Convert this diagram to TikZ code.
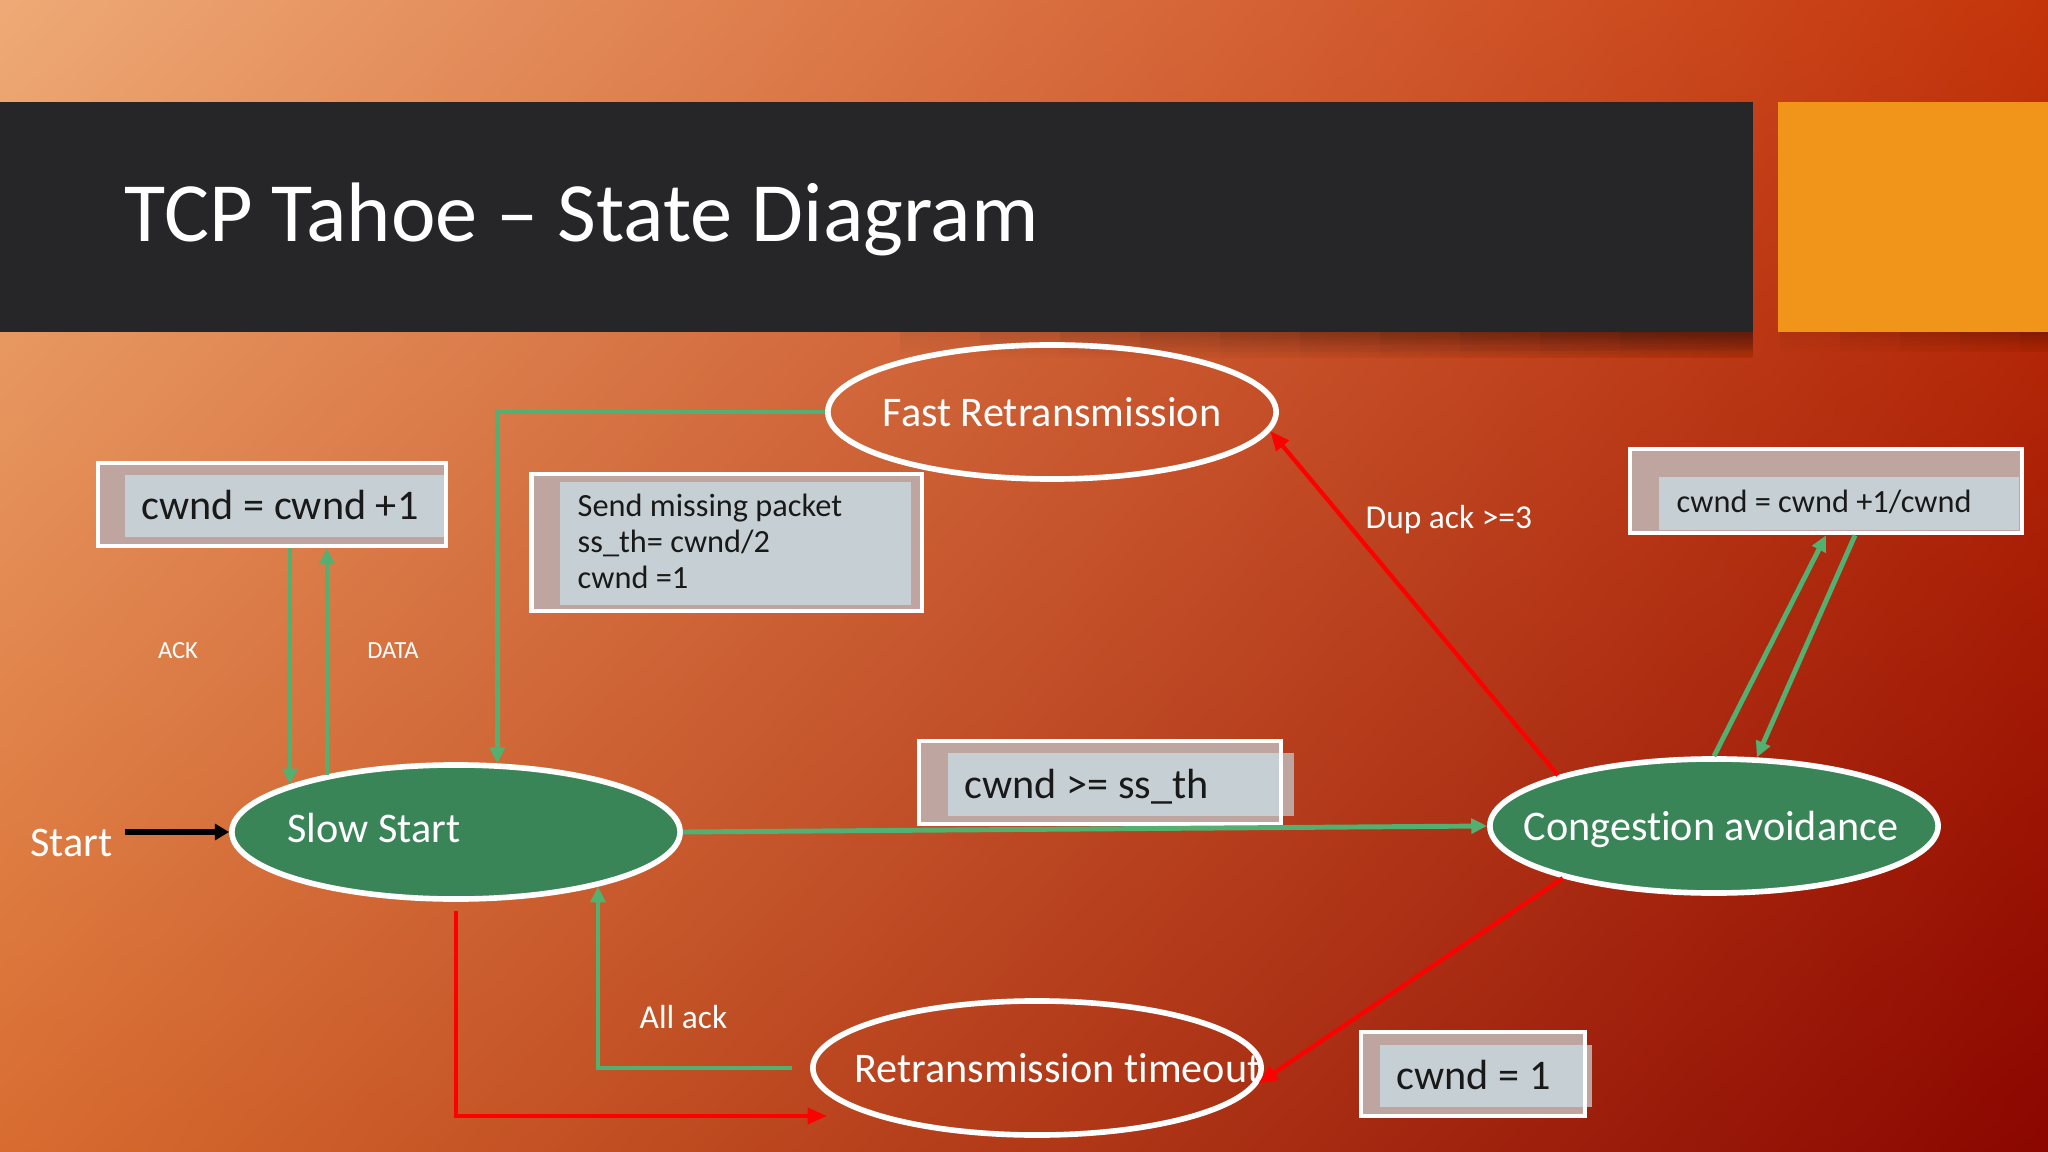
\documentclass[tikz,border=0pt]{standalone}
\usepackage{fontspec}
\setmainfont{Carlito}[Ligatures=NoCommon]
\usetikzlibrary{arrows.meta, shapes.geometric, fadings, shadings}
\definecolor{bgTL}{RGB}{238,170,118}
\definecolor{bgTR}{RGB}{196,52,10}
\definecolor{bgBL}{RGB}{216,108,48}
\definecolor{bgBR}{RGB}{138,6,0}
\definecolor{titlebar}{RGB}{38,38,41}
\definecolor{accent}{RGB}{240,149,26}
\definecolor{stategreen}{RGB}{58,133,88}
\definecolor{flowgreen}{RGB}{82,176,112}
\definecolor{notepink}{RGB}{190,165,160}
\definecolor{noteblue}{RGB}{198,208,212}
\tikzfading[name=shadowfade, top color=transparent!0, bottom color=transparent!100]

\tikzset{
  state/.style={ellipse, draw=white, line width=1.6pt, minimum width=4.48cm, minimum height=1.34cm, inner sep=0pt},
  statelabel/.style={text=white, font=\fontsize{12}{14}\selectfont, text height=8pt, text depth=0pt},
  noteframe/.style={draw=white, line width=1.3pt, inner sep=0pt},
  notetext/.style={text=black!90, font=\fontsize{12}{14}\selectfont, inner sep=0pt, anchor=base west},
  notesmall/.style={notetext, font=\fontsize{9.2}{11}\selectfont},
  flowlabel/.style={text=white, font=\fontsize{9.5}{11}\selectfont, inner sep=0pt},
  okflow/.style={draw=flowgreen, line width=1.4pt, -{Triangle[length=4.5pt, width=4.2pt]}},
  lossflow/.style={draw=red, line width=1.2pt, -{Triangle[length=5.5pt, width=4.5pt]}},
}

\begin{document}
\begin{tikzpicture}[x=0.01cm, y=-0.01cm]
  \useasboundingbox (0,0) rectangle (2048,1152);
  \shade[upper left=bgTL, upper right=bgTR, lower left=bgBL, lower right=bgBR] (0,0) rectangle (2048,1152);

  % title bar
  \foreach \x in {900,980,...,1620}
    \fill[black, opacity=0.06, path fading=shadowfade] (\x,332) rectangle (1753,358);
  \foreach \x in {1780,1840,...,2020}
    \fill[black, opacity=0.06, path fading=shadowfade] (\x,332) rectangle (2048,352);
  \fill[titlebar] (0,102) rectangle (1753,332);
  \fill[accent] (1778,102) rectangle (2048,332);
  \node[text=white, font=\fontsize{24}{28}\selectfont, inner sep=0pt, anchor=base west] (title) at (124,242) {TCP Tahoe – State Diagram};

  % note boxes
  \fill[notepink] (98,463) rectangle (446,546);
  \fill[noteblue] (125,475) rectangle (444,537);
  \node[noteframe, minimum width=3.48cm, minimum height=0.83cm] (incbox) at (272,504.5) {};
  \node[notetext] (inctext) at (141,520) {cwnd = cwnd +1};

  \fill[notepink] (531.5,474) rectangle (922,611);
  \fill[noteblue] (560,482) rectangle (911,605);
  \node[noteframe, minimum width=3.905cm, minimum height=1.37cm] (sendbox) at (726.75,542.5) {};
  \foreach \txt [count=\i] in {Send missing packet, ss\_th= cwnd/2, cwnd =1}
    \node[notesmall] (sendline\i) at (577,481+36*\i) {\txt};

  \fill[notepink] (1630,449) rectangle (2022,533);
  \fill[noteblue] (1659,477) rectangle (2019,530);
  \node[noteframe, minimum width=3.92cm, minimum height=0.84cm] (ncbox) at (1826,491) {};
  \node[notesmall] (nctext) at (1676,513) {cwnd = cwnd +1/cwnd};

  \fill[notepink] (919,741) rectangle (1281,824);
  \fill[notepink] (1281,753) rectangle (1294,816);
  \fill[noteblue] (948,753) rectangle (1281,816);
  \node[noteframe, minimum width=3.62cm, minimum height=0.83cm] (thbox) at (1100,782.5) {};
  \node[notetext] (thtext) at (964,798) {cwnd >= ss\_th};

  \fill[notepink] (1361,1032) rectangle (1585,1116);
  \fill[notepink] (1585,1045) rectangle (1592,1107);
  \fill[noteblue] (1380,1045) rectangle (1585,1107);
  \node[noteframe, minimum width=2.24cm, minimum height=0.84cm] (onebox) at (1473,1074) {};
  \node[notetext] (onetext) at (1396,1089) {cwnd = 1};

  % states
  \node[state, label={[statelabel]center:Fast Retransmission}] (fr) at (1052,412) {};
  \node[state, fill=stategreen, label={[statelabel, xshift=-0.82cm, yshift=0.04cm]center:Slow Start}] (ss) at (456,832) {};
  \node[state, fill=stategreen, label={[statelabel, xshift=-0.03cm]center:Congestion avoidance}] (ca) at (1714,826) {};
  \node[state, label={[statelabel, xshift=0.21cm]center:Retransmission timeout}] (rt) at (1037,1068) {};

  % transitions
  \node[text=white, font=\fontsize{12}{14}\selectfont, anchor=base west] (startlbl) at (18,856) {Start};
  \draw[black, line width=1.6pt, -{Triangle[length=4pt, width=4.5pt]}] (ss.west -| startlbl.east) -- (ss.west);

  \draw[okflow] (ss.164 |- incbox.south) -- (ss.164);
  \draw[okflow] (ss.156) -- (ss.156 |- incbox.south);
  \node[flowlabel, font=\fontsize{7}{8}\selectfont, anchor=base] (acklbl) at (178,658) {ACK};
  \node[flowlabel, font=\fontsize{7}{8}\selectfont, anchor=base] (datalbl) at (393,658) {DATA};

  \draw[okflow] (fr.west) -| (ss.59);
  \draw[okflow] (ss.east) -- (ca.west);
  \draw[lossflow] (ca.162) -- (fr.-5);
  \node[flowlabel, anchor=base west] (duplbl) at (1365,528) {Dup ack >=3};

  \draw[okflow] (ca.north) -- (ncbox.south);
  \draw[okflow] ([xshift=0.29cm]ncbox.south) -- (ca.58);

  \draw[lossflow] (ca.199) -- (rt.-4);
  \coordinate (rtin) at (827,1116);
  \draw[lossflow] ([yshift=-0.09cm]ss.south) |- (rtin);
  \draw[okflow] ([xshift=-0.18cm]rt.west) -| (ss.-21);
  \node[flowlabel, anchor=base west] (alllbl) at (639,1028) {All ack};
\end{tikzpicture}
\end{document}
